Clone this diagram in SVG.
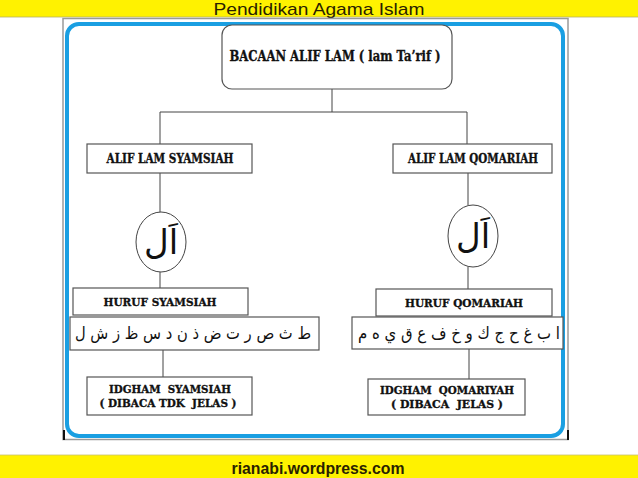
<svg xmlns="http://www.w3.org/2000/svg" width="638" height="478" viewBox="0 0 638 478">
<style>
.box{fill:#fff;stroke:#555;stroke-width:1.2}
.lbl{font-family:"DejaVu Serif","Liberation Serif",serif;font-weight:bold;fill:#111;stroke:#111;stroke-width:0.35;text-anchor:middle}
.ar{font-family:"DejaVu Sans","Noto Sans",sans-serif;fill:#111;text-anchor:middle}
.con line{stroke:#444;stroke-width:1}
</style>
<rect x="0" y="0" width="638" height="478" fill="#fff"/>
<g id="banner-top">
<rect x="0" y="0" width="638" height="17" fill="#fff200"/>
<line x1="0" y1="17" x2="638" y2="17" stroke="#b8b060" stroke-width="0.8"/>
<text x="319" y="15" font-family="Liberation Sans,Arial,sans-serif" font-size="17" fill="#2a1f00" text-anchor="middle" textLength="211" lengthAdjust="spacingAndGlyphs">Pendidikan Agama Islam</text>
</g>
<g id="banner-bottom">
<rect x="0" y="455" width="638" height="23" fill="#fff200"/>
<line x1="0" y1="455" x2="638" y2="455" stroke="#c8c070" stroke-width="0.8"/>
<text x="318" y="474" font-family="Liberation Sans,Arial,sans-serif" font-size="17" font-weight="bold" fill="#2a1f00" text-anchor="middle" textLength="173" lengthAdjust="spacingAndGlyphs">rianabi.wordpress.com</text>
</g>
<g id="frame">
<rect x="63" y="18.5" width="505" height="421" fill="none" stroke="#9a9a9a" stroke-width="1.5"/>
<line x1="64" y1="430" x2="64" y2="440" stroke="#111" stroke-width="2"/>
<line x1="568" y1="430" x2="568" y2="440" stroke="#111" stroke-width="2"/>
<rect x="67" y="24" width="496" height="412" rx="12" ry="12" fill="#fff" stroke="#1a9fe2" stroke-width="4"/>
</g>
<g id="connectors" class="con">
<line x1="332" y1="89" x2="332" y2="112"/>
<line x1="160" y1="112" x2="467" y2="112"/>
<line x1="160" y1="112" x2="160" y2="144"/>
<line x1="467" y1="112" x2="467" y2="144"/>
<line x1="160" y1="173" x2="160" y2="213"/>
<line x1="468" y1="173" x2="468" y2="205"/>
<line x1="160" y1="272" x2="160" y2="288"/>
<line x1="468" y1="267" x2="468" y2="289"/>
<line x1="163" y1="350" x2="163" y2="377"/>
<line x1="469" y1="349" x2="469" y2="379"/>
</g>
<g id="n-bacaan">
<rect class="box" x="222" y="25" width="230" height="64" rx="10" ry="10"/>
<text class="lbl" x="335" y="61" font-size="14" textLength="211" lengthAdjust="spacingAndGlyphs">BACAAN ALIF LAM ( lam Ta’rif )</text>
</g>
<g id="n-syamsiah">
<rect class="box" x="87" y="144" width="165" height="29"/>
<text class="lbl" x="170" y="163" font-size="12" textLength="127" lengthAdjust="spacingAndGlyphs">ALIF LAM SYAMSIAH</text>
</g>
<g id="n-qomariah">
<rect class="box" x="393" y="144" width="159" height="29"/>
<text class="lbl" x="473" y="163" font-size="12" textLength="130" lengthAdjust="spacingAndGlyphs">ALIF LAM QOMARIAH</text>
</g>
<g id="n-al-left">
<ellipse cx="161" cy="242" rx="25" ry="30" fill="#fff" stroke="#444" stroke-width="1"/>
<text class="ar" x="161" y="254" font-size="34">اَل</text>
</g>
<g id="n-al-right">
<ellipse cx="473" cy="236" rx="25" ry="31" fill="#fff" stroke="#444" stroke-width="1"/>
<text class="ar" x="473" y="248" font-size="34">اَل</text>
</g>
<g id="n-huruf-syamsiah">
<rect class="box" x="73" y="288" width="175" height="27"/>
<text class="lbl" x="160" y="306" font-size="11.5" textLength="113" lengthAdjust="spacingAndGlyphs">HURUF SYAMSIAH</text>
</g>
<g id="n-huruf-qomariah">
<rect class="box" x="376" y="289" width="176" height="27"/>
<text class="lbl" x="464" y="307" font-size="11.5" textLength="118" lengthAdjust="spacingAndGlyphs">HURUF QOMARIAH</text>
</g>
<g id="n-letters-syamsiah">
<rect class="box" x="70" y="317" width="249" height="33"/>
<text class="ar" x="193" y="339" font-size="17" direction="rtl" textLength="236" lengthAdjust="spacingAndGlyphs">ط ث ص ر ت ض ذ ن د س ظ ز ش ل</text>
</g>
<g id="n-letters-qomariah">
<rect class="box" x="352" y="317" width="211" height="32"/>
<text class="ar" x="459" y="339" font-size="17" direction="rtl" textLength="202" lengthAdjust="spacingAndGlyphs">ا ب غ ح ج ك و خ ف ع ق ي ه م</text>
</g>
<g id="n-idgham-syamsiah">
<rect class="box" x="87" y="377" width="165" height="38"/>
<text class="lbl" x="170" y="393" font-size="11" textLength="122" lengthAdjust="spacingAndGlyphs" xml:space="preserve">IDGHAM  SYAMSIAH</text>
<text class="lbl" x="168" y="407" font-size="11" textLength="137" lengthAdjust="spacingAndGlyphs" xml:space="preserve">( DIBACA TDK  JELAS )</text>
</g>
<g id="n-idgham-qomariyah">
<rect class="box" x="368" y="379" width="157" height="36"/>
<text class="lbl" x="447" y="394" font-size="11" textLength="134" lengthAdjust="spacingAndGlyphs" xml:space="preserve">IDGHAM  QOMARIYAH</text>
<text class="lbl" x="447" y="408" font-size="11" textLength="112" lengthAdjust="spacingAndGlyphs" xml:space="preserve">( DIBACA  JELAS )</text>
</g>
</svg>
